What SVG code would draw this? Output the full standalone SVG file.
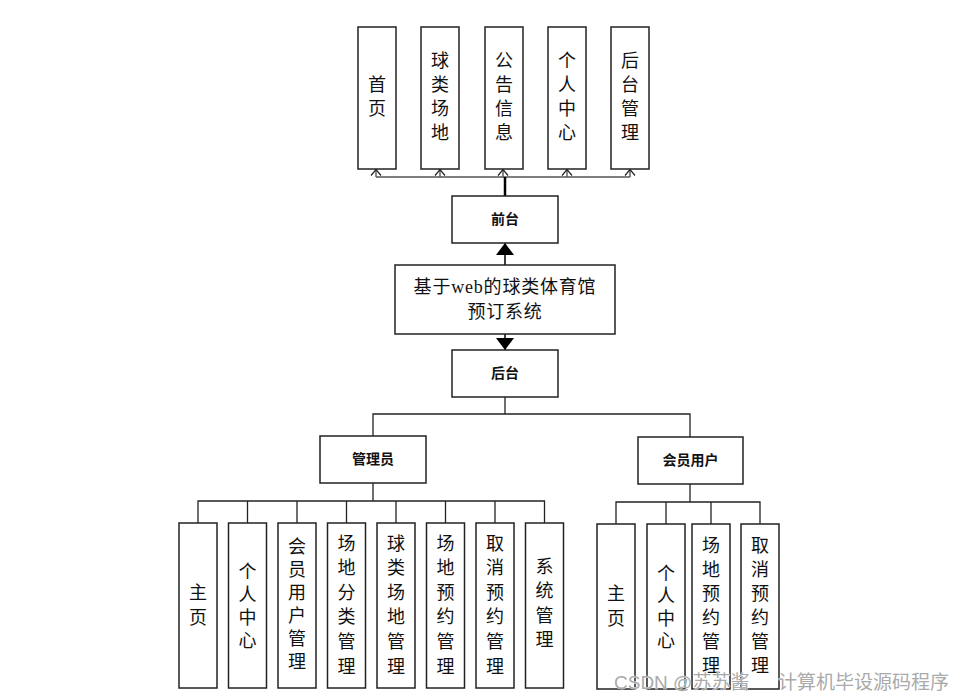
<svg xmlns="http://www.w3.org/2000/svg" width="973" height="700" viewBox="0 0 973 700">
<defs>
<style>
.box{fill:#fff;stroke:#222;stroke-width:1.5}
.v{font-family:"Liberation Serif","Noto Sans CJK SC",serif;font-size:18px;fill:#111;text-anchor:middle}
.t{font-family:"Liberation Serif","Noto Sans CJK SC",serif;font-size:18px;fill:#111;text-anchor:middle;letter-spacing:0.8px}
.b{font-family:"Liberation Sans","Noto Sans CJK SC",sans-serif;font-size:14px;font-weight:bold;fill:#111;text-anchor:middle}
.ln{fill:none;stroke:#222;stroke-width:1.3}
.gl{fill:none;stroke:#555;stroke-width:1.4}
.wm{font-family:"Liberation Sans","Noto Sans CJK SC",sans-serif;font-size:19px;fill:#aaa;stroke:#fff;stroke-width:0.6;paint-order:stroke}
</style>
<marker id="open" markerWidth="12" markerHeight="10" refX="6" refY="1" orient="0" markerUnits="userSpaceOnUse" viewBox="0 0 12 10">
<path d="M1,7 L6,1 L11,7" fill="none" stroke="#222" stroke-width="1.2"/>
</marker>
</defs>
<rect width="973" height="700" fill="#fff"/>

<g id="connectors">
<path class="gl" d="M376,177 L630,177"/>
<path class="gl" d="M376,177 L376,169.5" marker-end="url(#open)"/>
<path class="gl" d="M440,177 L440,169.5" marker-end="url(#open)"/>
<path class="gl" d="M503,177 L503,169.5" marker-end="url(#open)"/>
<path class="gl" d="M567,177 L567,169.5" marker-end="url(#open)"/>
<path class="gl" d="M630,177 L630,169.5" marker-end="url(#open)"/>
<path d="M505,196 L505,177" stroke="#000" stroke-width="2.5" fill="none"/>
<path d="M505,265 L505,243" stroke="#000" stroke-width="1.5" fill="none"/>
<path d="M496,255 L505,243 L514,255 Z" fill="#000"/>
<path d="M505,334 L505,350" stroke="#000" stroke-width="1.5" fill="none"/>
<path d="M496,338 L505,350 L514,338 Z" fill="#000"/>
<path class="ln" d="M505,397 L505,414 M373,436 L373,414 L690,414 L690,437"/>
<path class="ln" d="M373,483 L373,501 M198,523 L198,501 L544.5,501 L544.5,523"/>
<path class="ln" d="M247.5,501 L247.5,523 M297,501 L297,523 M346.5,501 L346.5,523 M396,501 L396,523 M445.5,501 L445.5,523 M495,501 L495,523"/>
<path class="ln" d="M690,484 L690,502 M616,524 L616,502 L760,502 L760,524 M666,502 L666,524 M711,502 L711,524"/>
</g>

<g id="n-shouye"><rect class="box" x="358" y="27" width="38" height="142"/><text class="v" x="377" y="91">首</text><text class="v" x="377" y="115">页</text></g>
<g id="n-qiulei"><rect class="box" x="421" y="27" width="38" height="142"/><text class="v" x="440" y="67">球</text><text class="v" x="440" y="91">类</text><text class="v" x="440" y="115">场</text><text class="v" x="440" y="139">地</text></g>
<g id="n-gonggao"><rect class="box" x="485" y="27" width="38" height="142"/><text class="v" x="504" y="67">公</text><text class="v" x="504" y="91">告</text><text class="v" x="504" y="115">信</text><text class="v" x="504" y="139">息</text></g>
<g id="n-geren"><rect class="box" x="548" y="27" width="38" height="142"/><text class="v" x="567" y="67">个</text><text class="v" x="567" y="91">人</text><text class="v" x="567" y="115">中</text><text class="v" x="567" y="139">心</text></g>
<g id="n-houtaiguanli"><rect class="box" x="611" y="27" width="38" height="142"/><text class="v" x="630" y="67">后</text><text class="v" x="630" y="91">台</text><text class="v" x="630" y="115">管</text><text class="v" x="630" y="139">理</text></g>

<g id="n-qiantai"><rect class="box" x="452" y="196" width="106" height="47"/><text class="b" x="505" y="224">前台</text></g>
<g id="n-system"><rect class="box" x="395" y="265" width="220" height="69"/><text class="t" x="505" y="293">基于web的球类体育馆</text><text class="t" x="505" y="318">预订系统</text></g>
<g id="n-houtai"><rect class="box" x="452" y="350" width="106" height="47"/><text class="b" x="505" y="378">后台</text></g>
<g id="n-admin"><rect class="box" x="320" y="436" width="106" height="47"/><text class="b" x="373" y="464">管理员</text></g>
<g id="n-member"><rect class="box" x="638" y="437" width="105" height="47"/><text class="b" x="690.5" y="465">会员用户</text></g>

<g id="a1"><rect class="box" x="179" y="523" width="38" height="165"/><text class="v" x="198" y="599">主</text><text class="v" x="198" y="624">页</text></g>
<g id="a2"><rect class="box" x="228.5" y="523" width="38" height="165"/><text class="v" x="247.5" y="578">个</text><text class="v" x="247.5" y="601">人</text><text class="v" x="247.5" y="624">中</text><text class="v" x="247.5" y="647">心</text></g>
<g id="a3"><rect class="box" x="278" y="523" width="38" height="165"/><text class="v" x="297" y="553">会</text><text class="v" x="297" y="576">员</text><text class="v" x="297" y="599">用</text><text class="v" x="297" y="622">户</text><text class="v" x="297" y="645">管</text><text class="v" x="297" y="668">理</text></g>
<g id="a4"><rect class="box" x="327.5" y="523" width="38" height="165"/><text class="v" x="346.5" y="550">场</text><text class="v" x="346.5" y="574">地</text><text class="v" x="346.5" y="599">分</text><text class="v" x="346.5" y="623">类</text><text class="v" x="346.5" y="648">管</text><text class="v" x="346.5" y="673">理</text></g>
<g id="a5"><rect class="box" x="377" y="523" width="38" height="165"/><text class="v" x="396" y="550">球</text><text class="v" x="396" y="574">类</text><text class="v" x="396" y="599">场</text><text class="v" x="396" y="623">地</text><text class="v" x="396" y="648">管</text><text class="v" x="396" y="673">理</text></g>
<g id="a6"><rect class="box" x="426.5" y="523" width="38" height="165"/><text class="v" x="445.5" y="550">场</text><text class="v" x="445.5" y="574">地</text><text class="v" x="445.5" y="599">预</text><text class="v" x="445.5" y="623">约</text><text class="v" x="445.5" y="648">管</text><text class="v" x="445.5" y="673">理</text></g>
<g id="a7"><rect class="box" x="476" y="523" width="38" height="165"/><text class="v" x="495" y="550">取</text><text class="v" x="495" y="574">消</text><text class="v" x="495" y="599">预</text><text class="v" x="495" y="623">约</text><text class="v" x="495" y="648">管</text><text class="v" x="495" y="673">理</text></g>
<g id="a8"><rect class="box" x="525.5" y="523" width="38" height="165"/><text class="v" x="544.5" y="573">系</text><text class="v" x="544.5" y="597">统</text><text class="v" x="544.5" y="622">管</text><text class="v" x="544.5" y="646">理</text></g>

<g id="m1"><rect class="box" x="597" y="524" width="38" height="165"/><text class="v" x="616" y="600">主</text><text class="v" x="616" y="625">页</text></g>
<g id="m2"><rect class="box" x="647" y="524" width="38" height="165"/><text class="v" x="666" y="580">个</text><text class="v" x="666" y="602">人</text><text class="v" x="666" y="625">中</text><text class="v" x="666" y="647">心</text></g>
<g id="m3"><rect class="box" x="692" y="524" width="38" height="165"/><text class="v" x="711" y="552">场</text><text class="v" x="711" y="576">地</text><text class="v" x="711" y="600">预</text><text class="v" x="711" y="624">约</text><text class="v" x="711" y="648">管</text><text class="v" x="711" y="672">理</text></g>
<g id="m4"><rect class="box" x="741" y="524" width="38" height="165"/><text class="v" x="760" y="552">取</text><text class="v" x="760" y="576">消</text><text class="v" x="760" y="600">预</text><text class="v" x="760" y="624">约</text><text class="v" x="760" y="648">管</text><text class="v" x="760" y="672">理</text></g>

<g id="watermark"><text class="wm" x="614" y="689">CSDN @苏苏酱</text><text class="wm" x="778" y="689">计算机毕设源码程序</text></g>
</svg>
